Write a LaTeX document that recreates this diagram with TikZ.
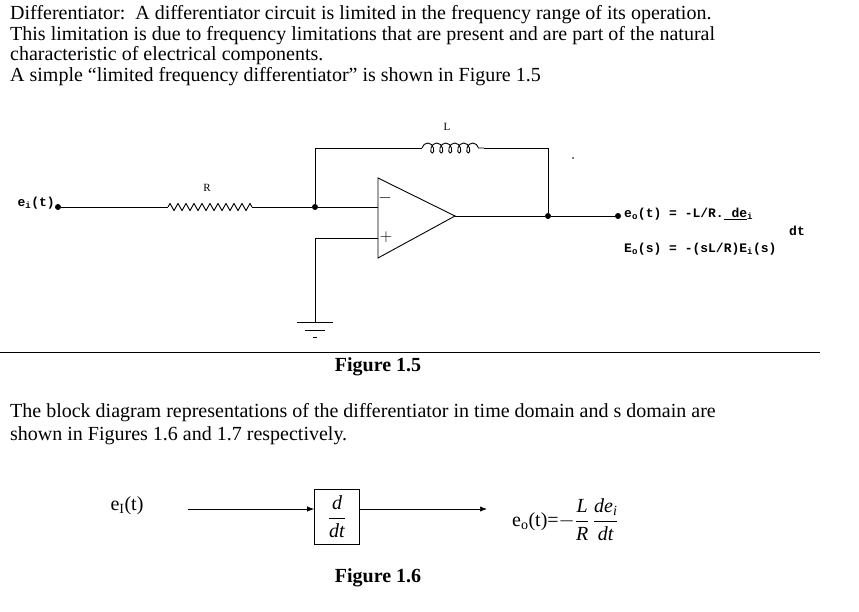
\documentclass[tikz,border=0pt]{standalone}
\usepackage{amsmath}
\usepackage{fontspec}
\setmainfont{Liberation Serif}
\newfontfamily\circfont{Liberation Mono}
\usetikzlibrary{positioning,decorations.pathmorphing,arrows.meta}
\tikzset{
  body/.style={anchor=west,inner sep=0pt,font=\fontsize{20}{22}\selectfont},
  ckt/.style={inner sep=0pt,font=\circfont\bfseries\fontsize{13}{14}\selectfont},
  dot/.style={circle,fill,inner sep=0pt,minimum size=6pt},
  wire/.style={line width=0.9pt},
  sig/.style={-{Latex[length=7pt]},line width=0.7pt}
}
\begin{document}
\begin{tikzpicture}[x=1pt,y=-1pt]
\useasboundingbox (0,0) rectangle (859,612);
% text lines
\node[body] (l1) at (10,15) {Differentiator:\ \ A differentiator circuit is limited in the frequency range of its operation.};
\node[body] (l2) at (10,36) {This limitation is due to frequency limitations that are present and are part of the natural};
\node[body] (l3) at (10,56) {characteristic of electrical components.};
\node[body] (l4) at (10,77) {A simple “limited frequency differentiator” is shown in Figure 1.5};
% circuit
\node[ckt,anchor=east] (ein) at (55,203) {e\textsubscript{i}(t)};
\node[dot] (a) at (58,207) {};
\coordinate (r1) at (168,207);
\coordinate (r2) at (252,207);
\node[dot] (j1) at (315,207) {};
\node[ckt,font=\fontsize{11}{12}\selectfont] (rl) at (207,188) {R};
\draw[wire] (a) -- (r1);
\draw[wire,decorate,decoration={zigzag,segment length=8pt,amplitude=3.5pt}] (r1) -- (r2);
\draw[wire] (r2) -- (j1);
% op amp
\coordinate (ol) at (378,178);
\coordinate (ob) at (378,258);
\coordinate (tip) at (455,216);
\draw[wire] (ol) -- (tip) -- (ob) -- cycle;
\draw[wire] (j1) -- (378,207);
\node[ckt,font=\fontsize{16}{16}\selectfont] (mn) at (385,198) {$-$};
\node[ckt,font=\fontsize{16}{16}\selectfont] (pl) at (386,237) {$+$};
\coordinate (pin) at (378,238);
\coordinate (gnd) at (315,322);
\draw[wire] (pin) -- (315,238) -- (gnd);
\draw[wire] (297,322) -- (333,322);
\draw[wire] (305,330) -- (325,330);
\draw[wire] (313,337) -- (317,337);
% feedback
\node[dot] (j2) at (548,216) {};
\node[dot] (b) at (618,216) {};
\coordinate (i1) at (422,148);
\coordinate (i2) at (484,148);
\draw[wire] (tip) -- (j2) -- (b);
\draw[wire] (j1) -- (315,148) -- (i1);
\draw[wire,decorate,decoration={coil,aspect=0.7,segment length=9pt,amplitude=5pt}] (i1) -- (i2);
\draw[wire] (i2) -- (548,148) -- (j2);
\node[ckt,font=\fontsize{11}{12}\selectfont] (ll) at (447,127) {L};
\fill (573,158) circle (0.8pt);
\node[ckt,anchor=west] (eq1) at (624,214) {e\textsubscript{o}(t) = -L/R.\underline{\ de}\textsubscript{i}};
\node[ckt] (eq2) at (797,231) {dt};
\node[ckt,anchor=west] (eq3) at (624,249) {E\textsubscript{o}(s) = -(sL/R)E\textsubscript{i}(s)};
\draw[line width=0.7pt] (0,352) -- (820,352);
\node[body,anchor=center,font=\bfseries\fontsize{20}{22}\selectfont] (f15) at (378,367) {Figure 1.5};
\node[body] (p1) at (10,413) {The block diagram representations of the differentiator in time domain and s domain are};
\node[body] (p2) at (10,436) {shown in Figures 1.6 and 1.7 respectively.};
% block diagram
\node[body,anchor=center] (ei) at (127,506) {e\textsubscript{I}(t)};
\node[draw,line width=0.7pt,minimum width=45pt,minimum height=55pt,inner sep=0pt,font=\fontsize{20}{22}\selectfont] (blk) at (337,517) {$\dfrac{\textit{d}}{\textit{dt}}$};
\coordinate (s0) at (188,509);
\coordinate (s1) at (487,509);
\draw[sig] (s0) -- (blk.west|-s0);
\draw[sig] (blk.east|-s0) -- (s1);
\node[body,anchor=west] (eo) at (512,520) {e\textsubscript{o}(t)=$-\dfrac{\textit{L}}{\textit{R}}\,\dfrac{\textit{de}_{\textit{i}}}{\textit{dt}}$};
\node[body,anchor=center,font=\bfseries\fontsize{20}{22}\selectfont] (f16) at (378,578) {Figure 1.6};
\end{tikzpicture}
\end{document}
